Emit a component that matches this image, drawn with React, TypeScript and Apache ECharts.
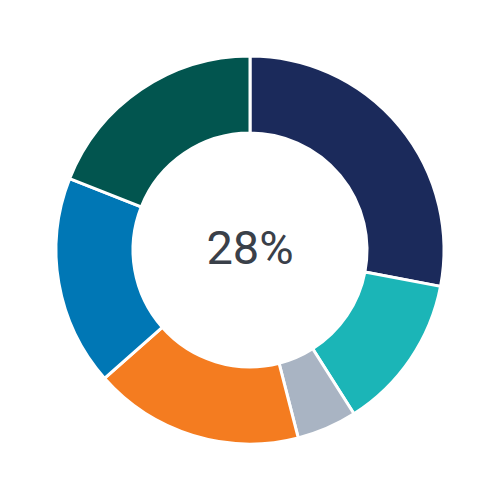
import { useEffect, useRef } from 'react';
import * as echarts from 'echarts';

const names = ['A', 'B', 'C', 'D', 'E', 'F'];
const values = [28, 13, 5, 17.5, 17.5, 19];
const colors = ['#1b2a5b', '#1bb5b7', '#a9b4c3', '#f47c20', '#0077b5', '#02554f'];
const centerLabel = '28%';

export default function App() {
  const ref = useRef<HTMLDivElement>(null);

  useEffect(() => {
    document.body.style.margin = '0';
    if (!ref.current) return;
    const chart = echarts.init(ref.current, null, { renderer: 'svg' });
    chart.setOption({
      animation: false,
      backgroundColor: '#ffffff',
      graphic: [
        {
          type: 'text',
          x: 250,
          y: 247,
          style: {
            text: centerLabel,
            fontSize: 47,
            fontFamily: 'Roboto, "Open Sans", sans-serif',
            fill: '#3a4049',
            textAlign: 'center',
            textVerticalAlign: 'middle',
          },
        },
      ],
      series: [
        {
          type: 'pie',
          radius: [117, 194],
          center: ['50%', '50%'],
          startAngle: 90,
          clockwise: true,
          label: { show: false },
          labelLine: { show: false },
          itemStyle: { borderColor: '#ffffff', borderWidth: 3 },
          data: names.map((n, i) => ({
            name: n,
            value: values[i],
            itemStyle: { color: colors[i] },
          })),
        },
      ],
    });
    return () => chart.dispose();
  }, []);

  return <div ref={ref} style={{ width: 500, height: 500 }} />;
}
